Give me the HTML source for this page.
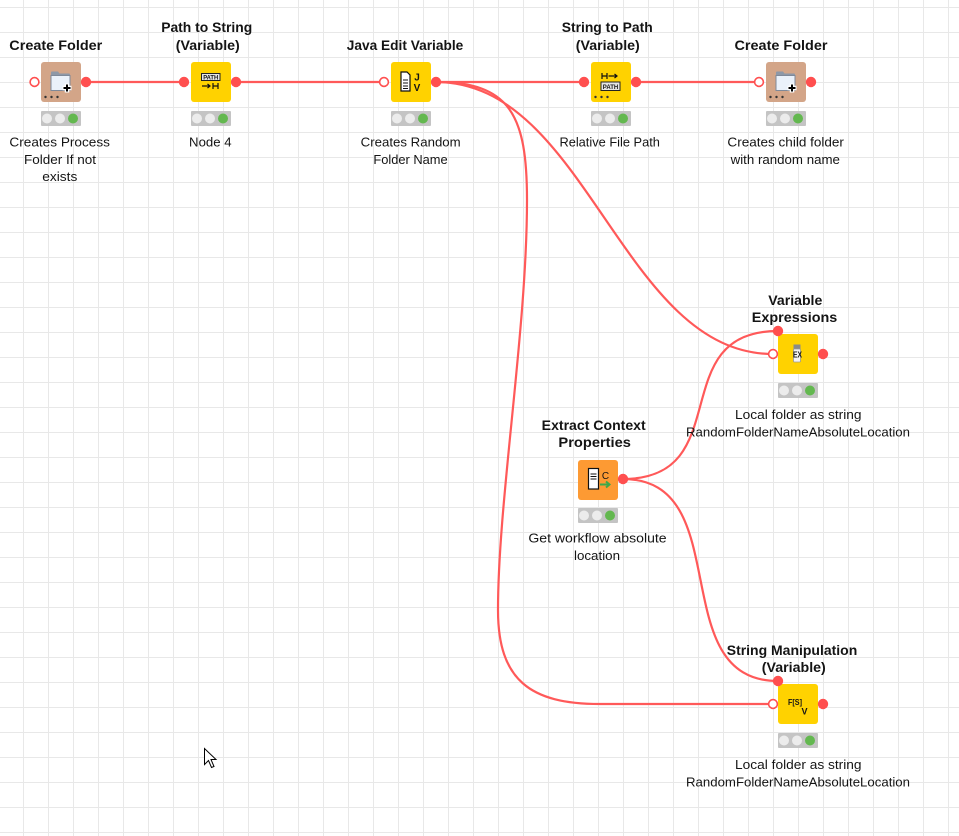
<!DOCTYPE html>
<html><head><meta charset="utf-8"><style>
html,body{margin:0;padding:0;background:#fff;}
svg{display:block;}
text{font-family:"Liberation Sans",Arial,sans-serif;fill:#141414;}
.t{font-weight:bold;font-size:14px;}
.d{font-size:13px;}
</style></head><body>
<svg width="959" height="836" viewBox="0 0 959 836" xmlns="http://www.w3.org/2000/svg">
<defs>
<pattern id="g" width="25" height="25" patternUnits="userSpaceOnUse" x="23" y="7">
<path d="M0.5 0V25M0 0.5H25" stroke="#e8e8e8" stroke-width="1" fill="none"/>
</pattern>
</defs>
<rect width="959" height="836" fill="#fff"/>
<rect width="959" height="836" fill="url(#g)"/>

<!-- connections -->
<g fill="none" stroke="#ff5959" stroke-width="2.2">
<path d="M86 82H184"/>
<path d="M236 82H384"/>
<path d="M436 82H584"/>
<path d="M636 82H759"/>
<path d="M436 82C510 82 527 115 527 200C527 330 498 500 498 610C498 680 530 704 600 704L773 704"/>
<path d="M436 82C587 82 622 354 773 354"/>
<path d="M623 479C738 479 663 331 778 331"/>
<path d="M623 479C738 479 663 681 778 681"/>
</g>

<!-- node boxes -->
<g>
<rect x="41" y="62" width="40" height="40" rx="3" fill="#d3a588"/>
<rect x="191" y="62" width="40" height="40" rx="3" fill="#ffd200"/>
<rect x="391" y="62" width="40" height="40" rx="3" fill="#ffd200"/>
<rect x="591" y="62" width="40" height="40" rx="3" fill="#ffd200"/>
<rect x="766" y="62" width="40" height="40" rx="3" fill="#d3a588"/>
<rect x="778" y="334" width="40" height="40" rx="3" fill="#ffd200"/>
<rect x="578" y="460" width="40" height="40" rx="3" fill="#fd9a33"/>
<rect x="778" y="684" width="40" height="40" rx="3" fill="#ffd200"/>
</g>

<!-- traffic lights -->
<g>
<g transform="translate(41,111)"><rect width="40" height="15" rx="1" fill="#c4c4c4"/><circle cx="6" cy="7.5" r="5" fill="#ececec"/><circle cx="19" cy="7.5" r="5" fill="#ececec"/><circle cx="32" cy="7.5" r="5" fill="#63b84f"/></g>
<g transform="translate(191,111)"><rect width="40" height="15" rx="1" fill="#c4c4c4"/><circle cx="6" cy="7.5" r="5" fill="#ececec"/><circle cx="19" cy="7.5" r="5" fill="#ececec"/><circle cx="32" cy="7.5" r="5" fill="#63b84f"/></g>
<g transform="translate(391,111)"><rect width="40" height="15" rx="1" fill="#c4c4c4"/><circle cx="6" cy="7.5" r="5" fill="#ececec"/><circle cx="19" cy="7.5" r="5" fill="#ececec"/><circle cx="32" cy="7.5" r="5" fill="#63b84f"/></g>
<g transform="translate(591,111)"><rect width="40" height="15" rx="1" fill="#c4c4c4"/><circle cx="6" cy="7.5" r="5" fill="#ececec"/><circle cx="19" cy="7.5" r="5" fill="#ececec"/><circle cx="32" cy="7.5" r="5" fill="#63b84f"/></g>
<g transform="translate(766,111)"><rect width="40" height="15" rx="1" fill="#c4c4c4"/><circle cx="6" cy="7.5" r="5" fill="#ececec"/><circle cx="19" cy="7.5" r="5" fill="#ececec"/><circle cx="32" cy="7.5" r="5" fill="#63b84f"/></g>
<g transform="translate(778,383)"><rect width="40" height="15" rx="1" fill="#c4c4c4"/><circle cx="6" cy="7.5" r="5" fill="#ececec"/><circle cx="19" cy="7.5" r="5" fill="#ececec"/><circle cx="32" cy="7.5" r="5" fill="#63b84f"/></g>
<g transform="translate(578,508)"><rect width="40" height="15" rx="1" fill="#c4c4c4"/><circle cx="6" cy="7.5" r="5" fill="#ececec"/><circle cx="19" cy="7.5" r="5" fill="#ececec"/><circle cx="32" cy="7.5" r="5" fill="#63b84f"/></g>
<g transform="translate(778,733)"><rect width="40" height="15" rx="1" fill="#c4c4c4"/><circle cx="6" cy="7.5" r="5" fill="#ececec"/><circle cx="19" cy="7.5" r="5" fill="#ececec"/><circle cx="32" cy="7.5" r="5" fill="#63b84f"/></g>
</g>

<!-- ports -->
<g fill="#ff4f4f">
<circle cx="86" cy="82" r="5.2"/>
<circle cx="184" cy="82" r="5.2"/>
<circle cx="236" cy="82" r="5.2"/>
<circle cx="436" cy="82" r="5.2"/>
<circle cx="584" cy="82" r="5.2"/>
<circle cx="636" cy="82" r="5.2"/>
<circle cx="811" cy="82" r="5.2"/>
<circle cx="778" cy="331" r="5.2"/>
<circle cx="823" cy="354" r="5.2"/>
<circle cx="623" cy="479" r="5.2"/>
<circle cx="778" cy="681" r="5.2"/>
<circle cx="823" cy="704" r="5.2"/>
</g>
<g fill="#fff" stroke="#ff4f4f" stroke-width="1.6">
<circle cx="34.5" cy="82" r="4.4"/>
<circle cx="384" cy="82" r="4.4"/>
<circle cx="759" cy="82" r="4.4"/>
<circle cx="773" cy="354" r="4.4"/>
<circle cx="773" cy="704" r="4.4"/>
</g>

<!-- icons: Create Folder -->
<g id="fold">
<path d="M51 74V72.5Q51 71.5 52 71.5H58L59.5 73.5H69Q70 73.5 70 74.5V76H51Z" fill="#8e98a7"/>
<rect x="51" y="75.5" width="19" height="15" fill="#eaf1fa" stroke="#7f8999" stroke-width="1"/>
<path d="M67 83.5V92.5M62.5 88H71.5" stroke="#fff" stroke-width="4.5"/>
<path d="M67 84.5V91.5M63.5 88H70.5" stroke="#000" stroke-width="2"/>
<circle cx="45.5" cy="97" r="1.2" fill="#333"/><circle cx="51.5" cy="97" r="1.2" fill="#333"/><circle cx="57.5" cy="97" r="1.2" fill="#333"/>
</g>
<g transform="translate(725,0)">
<path d="M51 74V72.5Q51 71.5 52 71.5H58L59.5 73.5H69Q70 73.5 70 74.5V76H51Z" fill="#8e98a7"/>
<rect x="51" y="75.5" width="19" height="15" fill="#eaf1fa" stroke="#7f8999" stroke-width="1"/>
<path d="M67 83.5V92.5M62.5 88H71.5" stroke="#fff" stroke-width="4.5"/>
<path d="M67 84.5V91.5M63.5 88H70.5" stroke="#000" stroke-width="2"/>
<circle cx="45.5" cy="97" r="1.2" fill="#333"/><circle cx="51.5" cy="97" r="1.2" fill="#333"/><circle cx="57.5" cy="97" r="1.2" fill="#333"/>
</g>

<!-- Path to String icon -->
<rect x="201.5" y="73.5" width="18.5" height="7" fill="#e6e6e6" stroke="#222" stroke-width="1"/>
<text x="210.7" y="79.6" text-anchor="middle" style="font-size:6px;font-weight:bold" textLength="15" lengthAdjust="spacingAndGlyphs">PATH</text>
<path d="M202 86H210M207.5 84L210 86L207.5 88M213 83V89M218 83V89M213 86H218" stroke="#111" stroke-width="1.2" fill="none"/>

<!-- Java Edit Variable icon -->
<path d="M401 72H407L410 75V91H401Z" fill="#fff" stroke="#111" stroke-width="1.2"/>
<path d="M403 80H408M403 83H408M403 86H408M403 88.5H408" stroke="#111" stroke-width="1"/>
<text x="417" y="80.5" text-anchor="middle" style="font-size:10px;font-weight:bold">J</text>
<text x="417" y="91" text-anchor="middle" style="font-size:10px;font-weight:bold">V</text>

<!-- String to Path icon -->
<path d="M602 73V79M602 76H607M607 73V79M608.5 76H617M614.5 74L617 76L614.5 78" stroke="#111" stroke-width="1.2" fill="none"/>
<rect x="601" y="82" width="19" height="8.5" fill="#e6e6e6" stroke="#222" stroke-width="1"/>
<text x="610.5" y="89" text-anchor="middle" style="font-size:6.5px;font-weight:bold" textLength="15.5" lengthAdjust="spacingAndGlyphs">PATH</text>
<circle cx="595.5" cy="97" r="1.2" fill="#333"/><circle cx="601.5" cy="97" r="1.2" fill="#333"/><circle cx="607.5" cy="97" r="1.2" fill="#333"/>

<!-- Variable Expressions icon -->
<rect x="793.5" y="344.5" width="7" height="5" fill="#8a8a8a"/>
<rect x="793.5" y="349" width="7" height="13" rx="1" fill="#f4f4f4" stroke="#999" stroke-width="0.8"/>
<text x="797.5" y="357.5" text-anchor="middle" style="font-size:8px;font-weight:bold" textLength="9" lengthAdjust="spacingAndGlyphs">EX</text>

<!-- Extract Context icon -->
<rect x="588.5" y="468.5" width="10" height="20.5" fill="#fff" stroke="#111" stroke-width="1.2"/>
<path d="M590.5 474H596.5M590.5 476.5H596.5M590.5 479H596.5" stroke="#111" stroke-width="1"/>
<text x="605.5" y="479" text-anchor="middle" style="font-size:10px">C</text>
<path d="M600 484.5H609M606 481.5L609.5 484.5L606 487.5" stroke="#3ca94a" stroke-width="2" fill="none"/>

<!-- String Manipulation icon -->
<text x="795" y="705" text-anchor="middle" style="font-size:8px;font-weight:bold" textLength="14" lengthAdjust="spacingAndGlyphs">F[S]</text>
<text x="804.5" y="714.5" text-anchor="middle" style="font-size:9px;font-weight:bold">V</text>

<!-- titles -->
<g class="t">
<text class="t" x="55.8" y="50" text-anchor="middle" textLength="93" lengthAdjust="spacingAndGlyphs">Create Folder</text>
<text class="t" x="206.7" y="32" text-anchor="middle" textLength="91" lengthAdjust="spacingAndGlyphs">Path to String</text>
<text class="t" x="207.8" y="50" text-anchor="middle" textLength="64" lengthAdjust="spacingAndGlyphs">(Variable)</text>
<text class="t" x="405" y="50" text-anchor="middle" textLength="116.5" lengthAdjust="spacingAndGlyphs">Java Edit Variable</text>
<text class="t" x="607.2" y="32" text-anchor="middle" textLength="91" lengthAdjust="spacingAndGlyphs">String to Path</text>
<text class="t" x="607.8" y="50" text-anchor="middle" textLength="64" lengthAdjust="spacingAndGlyphs">(Variable)</text>
<text class="t" x="781" y="50" text-anchor="middle" textLength="93" lengthAdjust="spacingAndGlyphs">Create Folder</text>
<text class="t" x="795.3" y="305" text-anchor="middle" textLength="54" lengthAdjust="spacingAndGlyphs">Variable</text>
<text class="t" x="794.5" y="322" text-anchor="middle" textLength="85.5" lengthAdjust="spacingAndGlyphs">Expressions</text>
<text class="t" x="593.7" y="430" text-anchor="middle" textLength="104" lengthAdjust="spacingAndGlyphs">Extract Context</text>
<text class="t" x="594.7" y="447" text-anchor="middle" textLength="72.5" lengthAdjust="spacingAndGlyphs">Properties</text>
<text class="t" x="792" y="655" text-anchor="middle" textLength="130.5" lengthAdjust="spacingAndGlyphs">String Manipulation</text>
<text class="t" x="793.8" y="672" text-anchor="middle" textLength="64" lengthAdjust="spacingAndGlyphs">(Variable)</text>
</g>

<!-- descriptions -->
<g>
<text class="d" x="59.7" y="146.5" text-anchor="middle" textLength="100.5" lengthAdjust="spacingAndGlyphs">Creates Process</text>
<text class="d" x="60" y="164" text-anchor="middle" textLength="72" lengthAdjust="spacingAndGlyphs">Folder If not</text>
<text class="d" x="59.8" y="181.2" text-anchor="middle" textLength="35" lengthAdjust="spacingAndGlyphs">exists</text>
<text class="d" x="210.3" y="146.5" text-anchor="middle" textLength="42.5" lengthAdjust="spacingAndGlyphs">Node 4</text>
<text class="d" x="410.7" y="146.5" text-anchor="middle" textLength="100" lengthAdjust="spacingAndGlyphs">Creates Random</text>
<text class="d" x="410.5" y="164" text-anchor="middle" textLength="74.3" lengthAdjust="spacingAndGlyphs">Folder Name</text>
<text class="d" x="609.7" y="146.5" text-anchor="middle" textLength="100.5" lengthAdjust="spacingAndGlyphs">Relative File Path</text>
<text class="d" x="785.7" y="146.5" text-anchor="middle" textLength="116.5" lengthAdjust="spacingAndGlyphs">Creates child folder</text>
<text class="d" x="785.3" y="164" text-anchor="middle" textLength="109.3" lengthAdjust="spacingAndGlyphs">with random name</text>
<text class="d" x="798.3" y="419" text-anchor="middle" textLength="126.5" lengthAdjust="spacingAndGlyphs">Local folder as string</text>
<text class="d" x="798" y="436.5" text-anchor="middle" textLength="224" lengthAdjust="spacingAndGlyphs">RandomFolderNameAbsoluteLocation</text>
<text class="d" x="597.5" y="542.5" text-anchor="middle" textLength="138.3" lengthAdjust="spacingAndGlyphs">Get workflow absolute</text>
<text class="d" x="597" y="560" text-anchor="middle" textLength="46" lengthAdjust="spacingAndGlyphs">location</text>
<text class="d" x="798.3" y="769" text-anchor="middle" textLength="126.5" lengthAdjust="spacingAndGlyphs">Local folder as string</text>
<text class="d" x="798" y="786.5" text-anchor="middle" textLength="224" lengthAdjust="spacingAndGlyphs">RandomFolderNameAbsoluteLocation</text>
</g>

<!-- mouse cursor -->
<path d="M204.5 748.5V764.5L208.5 760.5L211.5 767.5L214 766.5L211 759.5H216Z" fill="#fff" stroke="#000" stroke-width="1" stroke-linejoin="miter"/>
</svg>
</body></html>
